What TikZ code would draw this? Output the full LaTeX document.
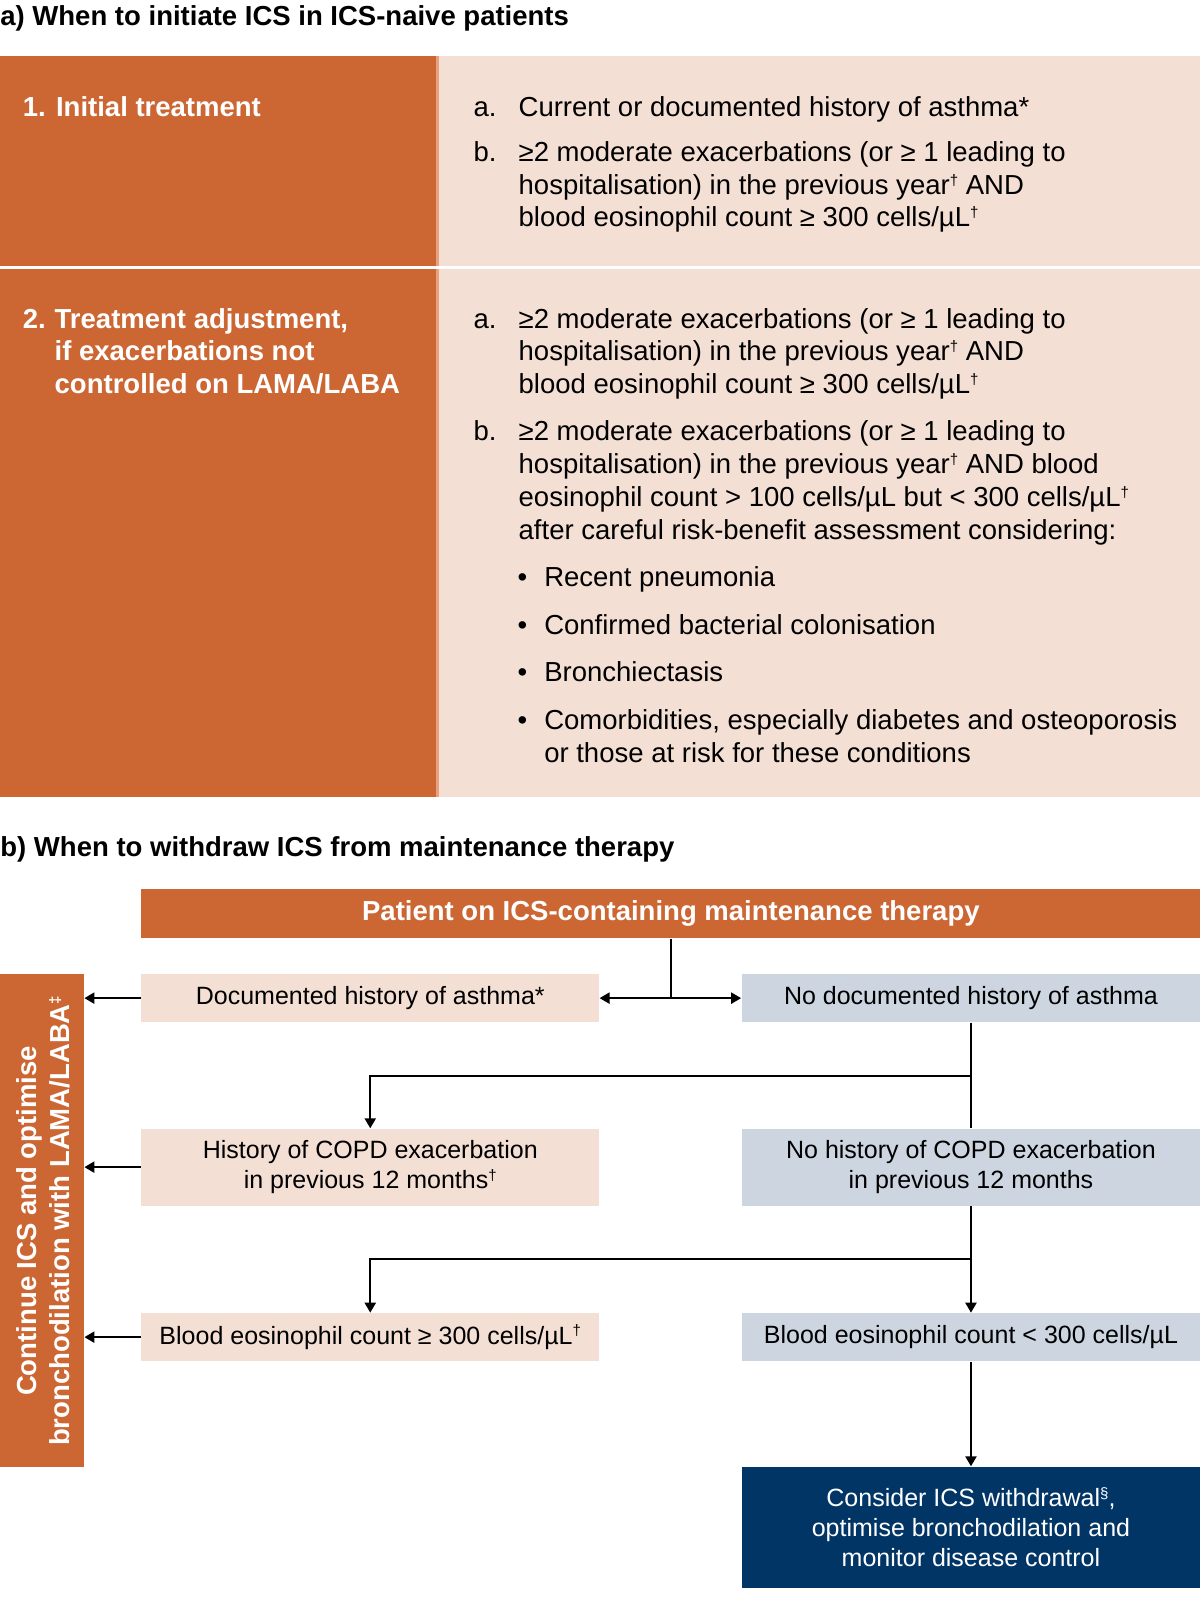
\documentclass[tikz,border=0pt]{standalone}
\usepackage{fontspec}
\setmainfont{Liberation Sans}
\usetikzlibrary{arrows.meta,calc}
\definecolor{ors}{RGB}{204,103,52}
\definecolor{orl}{RGB}{232,160,125}
\definecolor{pch}{RGB}{244,223,212}
\definecolor{bgr}{RGB}{205,214,224}
\definecolor{nvy}{RGB}{0,53,102}
\newcommand\supsym[1]{\raisebox{0.62ex}{\fontsize{7.5}{7.5}\selectfont #1}}
\newcommand\sdag{\supsym{†}}
\newcommand\sddag{\supsym{‡}}
\newcommand\ssect{\supsym{§}}
\newcommand\mfs{\fontsize{13.75}{16.4}\selectfont}
\newcommand\bfs{\fontsize{12.5}{15.1}\selectfont}
\begin{document}
\begin{tikzpicture}[x=0.512pt,y=-0.512pt,
  txt/.style={anchor=north west,inner sep=0pt,align=left,font=\mfs},
  btxt/.style={txt,font=\mfs\bfseries,text=white},
  ttl/.style={txt,font=\mfs\bfseries},
  boxb/.style={inner sep=0pt,align=center,font=\bfs,minimum height=#1*0.512pt},
  pbox/.style={boxb=#1,fill=pch,minimum width=447*0.512pt},
  gbox/.style={boxb=#1,fill=bgr,minimum width=448*0.512pt},
  conn/.style={line width=1.1pt,black},
  arr/.style={conn,-{Triangle[width=5.5pt,length=5pt]}},
  darr/.style={conn,{Triangle[width=5.5pt,length=5pt]}-{Triangle[width=5.5pt,length=5pt]}}]
\useasboundingbox (0,0) rectangle (1172,1568);
% ---------- part a ----------
\node[ttl] (ta) at (0,1.6) {\strut a) When to initiate ICS in ICS-naive patients};
\fill[ors] (0,55) rectangle (427,778);
\fill[pch] (427,55) rectangle (1172,778);
\fill[orl] (426,55) rectangle (429,778);
\fill[white] (0,259.5) rectangle (1172,262.5);
\node[btxt] (r1) at (22,90.6) {\strut 1. Initial treatment};
\node[btxt] (r2n) at (22,297.6) {\strut 2.};
\node[btxt] (r2) at (53,297.6) {\strut Treatment adjustment,\\if exacerbations not\\controlled on LAMA/LABA};
% row 1 items
\node[txt] (l1a) at (462,90.6) {\strut a.};
\node[txt] (i1a) at (506,90.6) {\strut Current or documented history of asthma*};
\node[txt] (l1b) at (462,134.6) {\strut b.};
\node[txt] (i1b) at (506,134.6) {\strut ≥2 moderate exacerbations (or ≥ 1 leading to\\hospitalisation) in the previous year\sdag{} AND\\blood eosinophil count ≥ 300 cells/µL\sdag};
% row 2 items
\node[txt] (l2a) at (462,297.6) {\strut a.};
\node[txt] (i2a) at (506,297.6) {\strut ≥2 moderate exacerbations (or ≥ 1 leading to\\hospitalisation) in the previous year\sdag{} AND\\blood eosinophil count ≥ 300 cells/µL\sdag};
\node[txt] (l2b) at (462,407.6) {\strut b.};
\node[txt] (i2b) at (506,407.6) {\strut ≥2 moderate exacerbations (or ≥ 1 leading to\\hospitalisation) in the previous year\sdag{} AND blood\\eosinophil count > 100 cells/µL but < 300 cells/µL\sdag\\after careful risk-benefit assessment considering:};
\node[txt] (u1) at (505,549.6) {\strut •};
\node[txt] (b1) at (531,549.6) {\strut Recent pneumonia};
\node[txt] (u2) at (505,596.6) {\strut •};
\node[txt] (b2) at (531,596.6) {\strut Confirmed bacterial colonisation};
\node[txt] (u3) at (505,642.6) {\strut •};
\node[txt] (b3) at (531,642.6) {\strut Bronchiectasis};
\node[txt] (u4) at (505,689.6) {\strut •};
\node[txt] (b4) at (531,689.6) {\strut Comorbidities, especially diabetes and osteoporosis\\or those at risk for these conditions};
% ---------- part b ----------
\node[ttl] (tb) at (0,813.6) {\strut b) When to withdraw ICS from maintenance therapy};
\node[boxb=48,fill=ors,minimum width=1034*0.512pt,text=white,font=\mfs\bfseries] (bar) at (655,892) {Patient on ICS-containing maintenance therapy};
\node[fill=ors,minimum width=82*0.512pt,minimum height=481*0.512pt,inner sep=0pt] (strip) at (41,1191.5) {};
\node[rotate=90,align=center,text=white,font=\mfs\bfseries,inner sep=0pt] (striptxt) at (42,1192) {Continue ICS and optimise\\bronchodilation with LAMA/LABA\sddag};
\node[pbox=47] (doc) at (361.5,974.5) {Documented history of asthma*};
\node[gbox=47] (nodoc) at (948,974.5) {No documented history of asthma};
\node[pbox=75] (hist) at (361.5,1139.5) {History of COPD exacerbation\\in previous 12 months\sdag};
\node[gbox=75] (nohist) at (948,1139.5) {No history of COPD exacerbation\\in previous 12 months};
\node[pbox=47] (eos1) at (361.5,1305.5) {Blood eosinophil count ≥ 300 cells/µL\sdag};
\node[gbox=47] (eos2) at (948,1305.5) {Blood eosinophil count < 300 cells/µL};
\node[boxb=118,fill=nvy,minimum width=448*0.512pt,text=white] (wd) at (948,1491) {Consider ICS withdrawal\ssect,\\optimise bronchodilation and\\monitor disease control};
% connectors
\coordinate (j1) at (bar.south |- doc.east);
\draw[conn] (bar.south) -- (j1);
\draw[arr] (j1) -- (doc.east);
\draw[arr] (j1) -- (nodoc.west);
\draw[arr] (doc.west) -- (doc.west -| strip.east);
\draw[arr] (hist.west) -- (hist.west -| strip.east);
\draw[arr] (eos1.west) -- (eos1.west -| strip.east);
\coordinate (j2) at ($(nodoc.south)+(0,52)$);
\draw[conn] (nodoc.south) -- (nohist.north);
\draw[arr] (j2) -| (hist.north);
\coordinate (j3) at ($(nohist.south)+(0,52)$);
\draw[arr] (nohist.south) -- (eos2.north);
\draw[arr] (j3) -| (eos1.north);
\draw[arr] (eos2.south) -- (wd.north);
\end{tikzpicture}
\end{document}
